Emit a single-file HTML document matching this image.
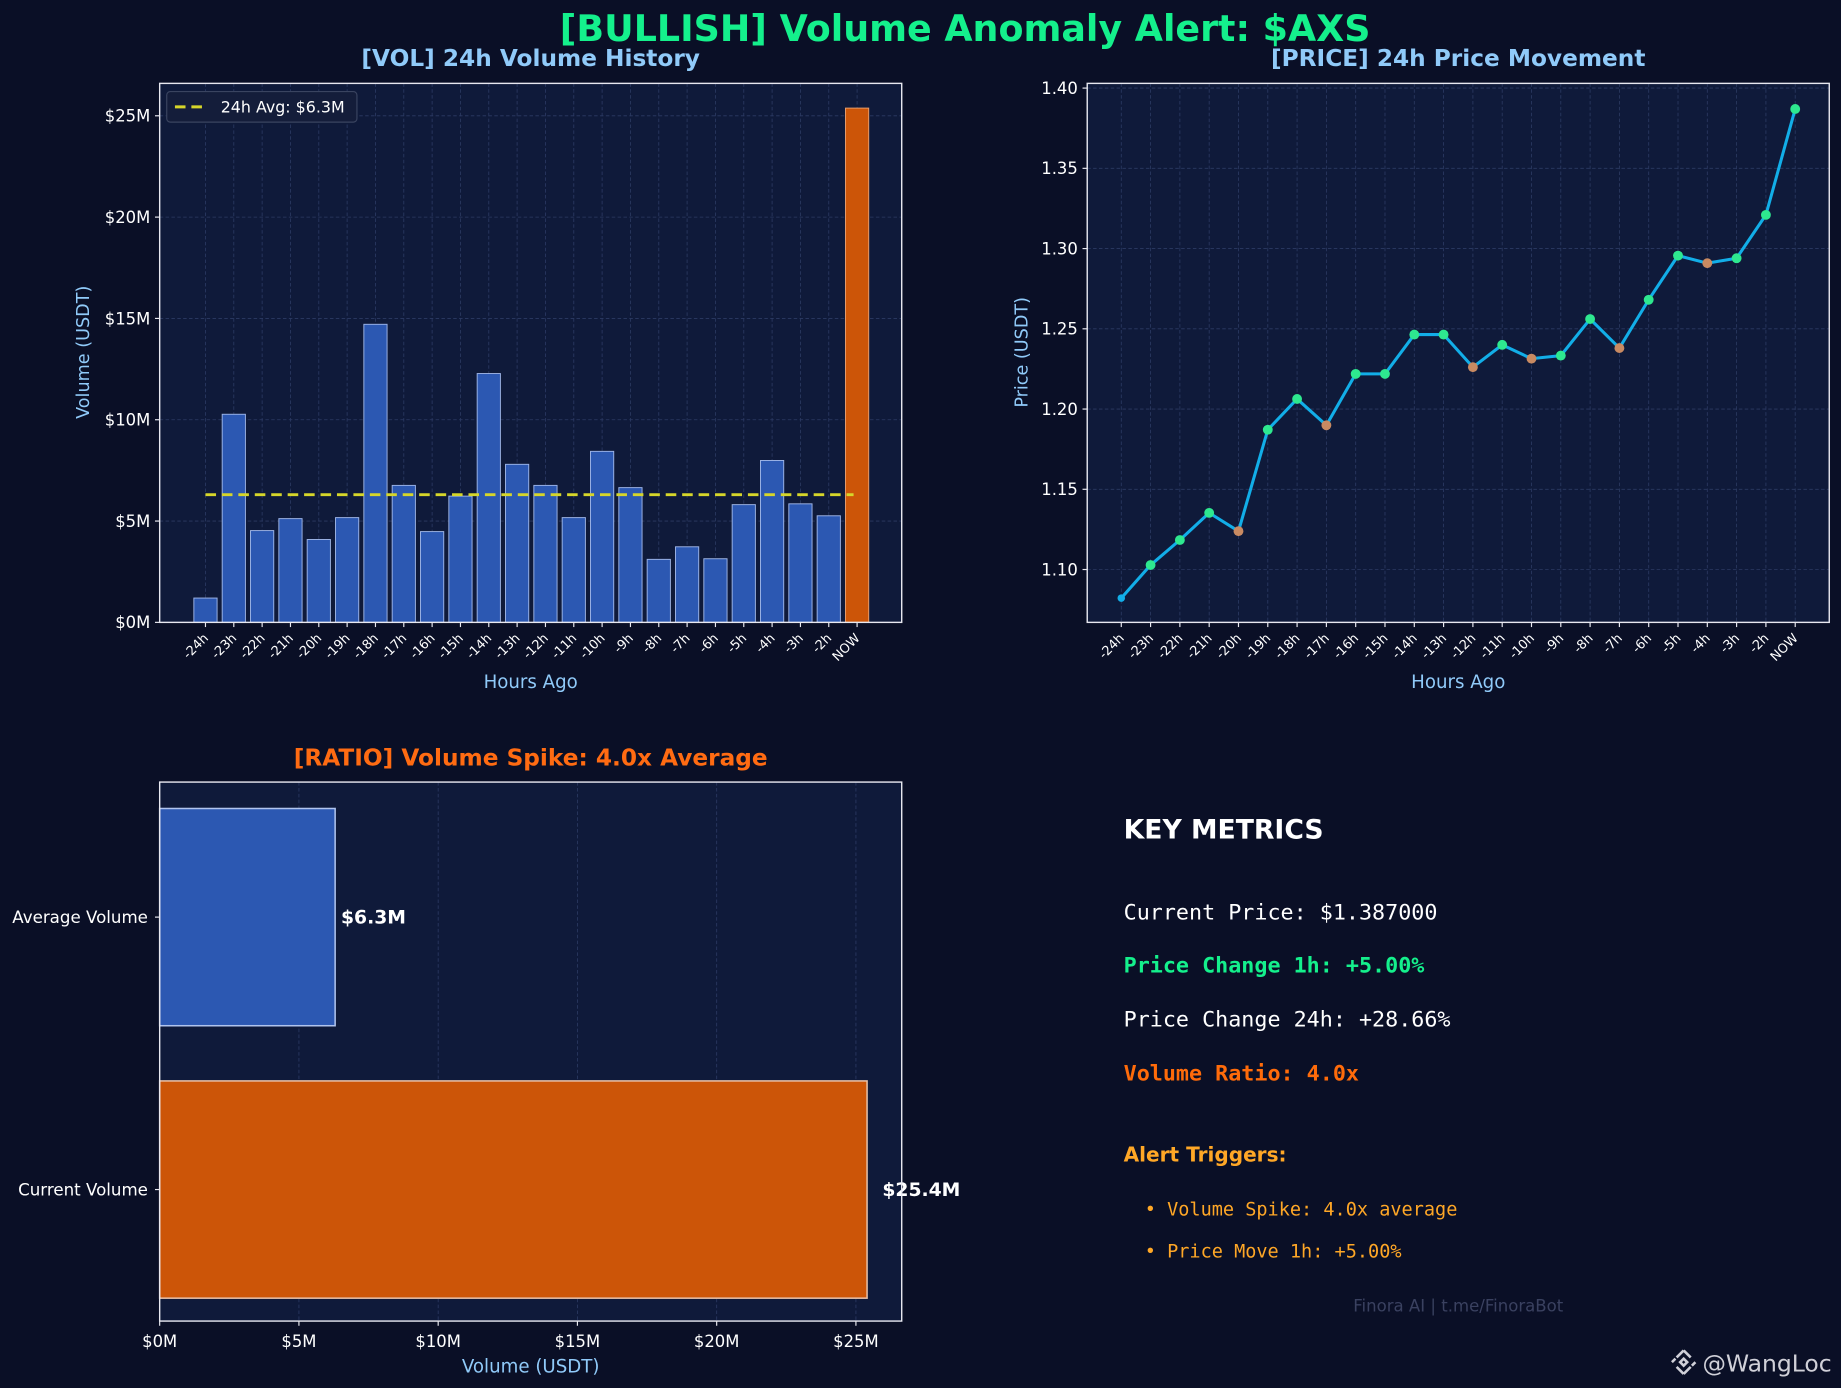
<!DOCTYPE html>
<html><head><meta charset="utf-8"><style>
html,body{margin:0;padding:0;background:#0a0f26;}
svg{display:block;}
text{font-family:"DejaVu Sans","Liberation Sans",sans-serif;}
.mono{font-family:"DejaVu Sans Mono","Liberation Mono",monospace;}
</style></head><body>
<svg id="root" width="1841" height="1388" viewBox="0 0 1568 1182" preserveAspectRatio="none" xmlns="http://www.w3.org/2000/svg">
<rect width="1568" height="1182" fill="#0a0f26"/>
<text x="822" y="35" text-anchor="middle" font-size="31" font-weight="bold" fill="#14f08c">[BULLISH] Volume Anomaly Alert: $AXS</text>

<g id="vol"></g>
<g id="price"></g>
<g id="ratio"></g>

<g>
<text x="957" y="714" font-size="22.7" font-weight="bold" fill="#ffffff">KEY METRICS</text>
<text class="mono" x="957" y="783" font-size="18.5" fill="#ffffff">Current Price: $1.387000</text>
<text class="mono" x="957" y="828" font-size="18.5" font-weight="bold" fill="#14f08c">Price Change 1h: +5.00%</text>
<text class="mono" x="957" y="874" font-size="18.5" fill="#ffffff">Price Change 24h: +28.66%</text>
<text class="mono" x="957" y="920" font-size="18.5" font-weight="bold" fill="#ff6b0a">Volume Ratio: 4.0x</text>
<text x="957" y="989" font-size="17.1" font-weight="bold" fill="#ffa726">Alert Triggers:</text>
<text class="mono" x="975" y="1035" font-size="15.8" fill="#ffa726">• Volume Spike: 4.0x average</text>
<text class="mono" x="975" y="1071" font-size="15.8" fill="#ffa726">• Price Move 1h: +5.00%</text>
<text x="1242" y="1117" text-anchor="middle" font-size="14.1" fill="#3a4160">Finora AI | t.me/FinoraBot</text>
<g>
<g transform="translate(1434,1160)" fill="none" stroke="#d0d0d8" stroke-width="2.2"><path d="M0,-10 L6,-4 M0,-10 L-6,-4 M0,10 L6,4 M0,10 L-6,4 M-10,0 L-7,-3 M10,0 L7,3 M-3,0 L0,-3 L3,0 L0,3 Z"/></g>
<text x="1450" y="1168" font-size="20" fill="#d0d0d8">@WangLoc</text>
</g>
</g>
</svg>
<script>
const NS="http://www.w3.org/2000/svg";
// ---- data ----
const hourLabels=["-24h","-23h","-22h","-21h","-20h","-19h","-18h","-17h","-16h","-15h","-14h","-13h","-12h","-11h","-10h","-9h","-8h","-7h","-6h","-5h","-4h","-3h","-2h","NOW"];
const volumeValues=[1.2,10.27,4.53,5.12,4.09,5.17,14.71,6.76,4.48,6.23,12.28,7.80,6.76,5.17,8.44,6.65,3.11,3.73,3.14,5.81,7.99,5.85,5.26,25.38];
const avgVolume=6.3;
const volTicks=[0,5,10,15,20,25];
const volTickLabels=["$0M","$5M","$10M","$15M","$20M","$25M"];
const priceValues=[1.0822,1.1028,1.1184,1.1353,1.1239,1.1871,1.2063,1.1899,1.2219,1.2219,1.2464,1.2464,1.2261,1.2400,1.2314,1.2333,1.2561,1.2380,1.2681,1.2956,1.2909,1.2940,1.3210,1.3870];
const priceTicks=[1.10,1.15,1.20,1.25,1.30,1.35,1.40];
const ratioCategories=["Average Volume","Current Volume"];
const ratioValues=[6.3,25.4];
const ratioLabels=["$6.3M","$25.4M"];

function el(parent,tag,attrs,txt){const e=document.createElementNS(NS,tag);for(const k in attrs)e.setAttribute(k,attrs[k]);if(txt!==undefined)e.textContent=txt;parent.appendChild(e);return e;}

function frame(g,x0,y0,x1,y1){
  el(g,'rect',{x:x0,y:y0,width:x1-x0,height:y1-y0,fill:'#0f1a3a'});
}
function border(g,x0,y0,x1,y1){
  el(g,'rect',{x:x0,y:y0,width:x1-x0,height:y1-y0,fill:'none',stroke:'#e8e8f0','stroke-width':1.2});
}
const grid={stroke:'#2c3a63','stroke-width':0.7,'stroke-dasharray':'3,2'};

// ---- Volume chart ----
(function(){
  const g=document.getElementById('vol');
  const X0=136,X1=768,Y0=71,Y1=530;
  const n=hourLabels.length;
  const step=(730-175)/(n-1);
  const xS=i=>175+i*step;
  const yS=v=>Y1-(v/26.6)*(Y1-Y0);
  frame(g,X0,Y0,X1,Y1);
  volTicks.forEach((t,k)=>{const y=yS(t);
    el(g,'line',Object.assign({x1:X0,x2:X1,y1:y,y2:y},grid));
    el(g,'line',{x1:X0-4,x2:X0,y1:y,y2:y,stroke:'#e8e8f0'});
    const tl=el(g,'text',{x:X0-8,y:y+5,'text-anchor':'end','font-size':14,fill:'#ffffff'},volTickLabels[k]);
    
    
  });
  hourLabels.forEach((h,i)=>{const x=xS(i);
    el(g,'line',Object.assign({x1:x,x2:x,y1:Y0,y2:Y1},grid));
    el(g,'line',{x1:x,x2:x,y1:Y1,y2:Y1+4,stroke:'#e8e8f0'});
    const t=el(g,'text',{x:x+3,y:Y1+14,'text-anchor':'end','font-size':11,fill:'#ffffff',transform:`rotate(-45 ${x+3} ${Y1+14})`},h);
    
    
  });
  const bw=step*0.82;
  volumeValues.forEach((v,i)=>{
    const last=i===n-1;
    const r=el(g,'rect',{x:xS(i)-bw/2,y:yS(v),width:bw,height:Y1-yS(v),fill:last?'#cc5508':'#2c58b2',stroke:last?'#e8a070':'#9fb6e8','stroke-width':0.8});
    
    
  });
  const al=el(g,'line',{x1:xS(0),x2:xS(n-1)-3,y1:yS(avgVolume),y2:yS(avgVolume),stroke:'#d6d62a','stroke-width':2.5,'stroke-dasharray':'9,5'});
  
  
  border(g,X0,Y0,X1,Y1);
  const lg=el(g,'g',{});
  
  
  el(lg,'rect',{x:142,y:78,width:162,height:26,rx:3,fill:'#141d3a',stroke:'#3a4460'});
  el(lg,'line',{x1:149,x2:176,y1:91,y2:91,stroke:'#d6d62a','stroke-width':2.5,'stroke-dasharray':'9,5'});
  el(lg,'text',{x:188,y:96,'font-size':13.5,fill:'#ffffff'},'24h Avg: $6.3M');
  const tt=el(g,'text',{x:452,y:56,'text-anchor':'middle','font-size':19.8,'font-weight':'bold',fill:'#90caf9'},'[VOL] 24h Volume History');
  
  
  const xl=el(g,'text',{x:452,y:586,'text-anchor':'middle','font-size':15.5,fill:'#90caf9'},'Hours Ago');
  
  
  const yl=el(g,'text',{x:76,y:300,'text-anchor':'middle','font-size':15,fill:'#90caf9',transform:'rotate(-90 76 300)'},'Volume (USDT)');
  
  
})();

// ---- Price chart ----
(function(){
  const g=document.getElementById('price');
  const X0=926,X1=1558,Y0=71,Y1=530;
  const n=priceValues.length;
  const step=(1529-955)/(n-1);
  const xS=i=>955+i*step;
  const yS=v=>485-(v-1.10)/0.05*68.33;
  frame(g,X0,Y0,X1,Y1);
  priceTicks.forEach(t=>{const y=yS(t);
    el(g,'line',Object.assign({x1:X0,x2:X1,y1:y,y2:y},grid));
    el(g,'line',{x1:X0-4,x2:X0,y1:y,y2:y,stroke:'#e8e8f0'});
    const tl=el(g,'text',{x:X0-8,y:y+5,'text-anchor':'end','font-size':14,fill:'#ffffff'},t.toFixed(2));
    
    
  });
  hourLabels.forEach((h,i)=>{const x=xS(i);
    el(g,'line',Object.assign({x1:x,x2:x,y1:Y0,y2:Y1},grid));
    el(g,'line',{x1:x,x2:x,y1:Y1,y2:Y1+4,stroke:'#e8e8f0'});
    const t=el(g,'text',{x:x+3,y:Y1+14,'text-anchor':'end','font-size':11,fill:'#ffffff',transform:`rotate(-45 ${x+3} ${Y1+14})`},h);
    
    
  });
  const pts=priceValues.map((v,i)=>`${xS(i)},${yS(v)}`).join(' ');
  const pl=el(g,'polyline',{points:pts,fill:'none',stroke:'#12aee8','stroke-width':2.6,'stroke-linejoin':'round'});
  
  
  priceValues.forEach((v,i)=>{
    let c='#12aee8',r=3.2;
    if(i>0){c=v>=priceValues[i-1]?'#2ee88f':'#c88a62';r=4.2;}
    const p=el(g,'circle',{cx:xS(i),cy:yS(v),r:r,fill:c});
    
    
  });
  border(g,X0,Y0,X1,Y1);
  const tt=el(g,'text',{x:1242,y:56,'text-anchor':'middle','font-size':19.8,'font-weight':'bold',fill:'#90caf9'},'[PRICE] 24h Price Movement');
  
  
  const xl=el(g,'text',{x:1242,y:586,'text-anchor':'middle','font-size':15.5,fill:'#90caf9'},'Hours Ago');
  
  
  const yl=el(g,'text',{x:875,y:300,'text-anchor':'middle','font-size':15,fill:'#90caf9',transform:'rotate(-90 875 300)'},'Price (USDT)');
  
  
})();

// ---- Ratio chart ----
(function(){
  const g=document.getElementById('ratio');
  const X0=136,X1=768,Y0=666,Y1=1125;
  const xS=v=>X0+v/25*(729-X0);
  const rowY=[781,1013];
  const bh=185;
  frame(g,X0,Y0,X1,Y1);
  volTicks.forEach((t,k)=>{const x=xS(t);
    el(g,'line',Object.assign({x1:x,x2:x,y1:Y0,y2:Y1},grid));
    el(g,'line',{x1:x,x2:x,y1:Y1,y2:Y1+4,stroke:'#e8e8f0'});
    const tl=el(g,'text',{x:x,y:Y1+22,'text-anchor':'middle','font-size':14,fill:'#ffffff'},volTickLabels[k]);
    
    
  });
  ratioCategories.forEach((c,i)=>{const y=rowY[i];
    el(g,'line',{x1:X0-4,x2:X0,y1:y,y2:y,stroke:'#e8e8f0'});
    const tl=el(g,'text',{x:X0-10,y:y+5,'text-anchor':'end','font-size':14.2,fill:'#ffffff'},c);
    
    
    const v=ratioValues[i];
    const r=el(g,'rect',{x:X0,y:y-bh/2,width:xS(v)-X0,height:bh,fill:i?'#cc5508':'#2c58b2',stroke:i?'#e8c0a8':'#b0c4ee','stroke-width':1.3});
    
    
    const vl=el(g,'text',{x:xS(v)+(i?13:5),y:y+5.5,'font-size':16,'font-weight':'bold',fill:'#ffffff'},ratioLabels[i]);
    
    
  });
  border(g,X0,Y0,X1,Y1);
  const tt=el(g,'text',{x:452,y:652,'text-anchor':'middle','font-size':19.8,'font-weight':'bold',fill:'#ff6b12'},'[RATIO] Volume Spike: 4.0x Average');
  
  
  const xl=el(g,'text',{x:452,y:1169,'text-anchor':'middle','font-size':15.5,fill:'#90caf9'},'Volume (USDT)');
  
  
})();
</script>
</body></html>
